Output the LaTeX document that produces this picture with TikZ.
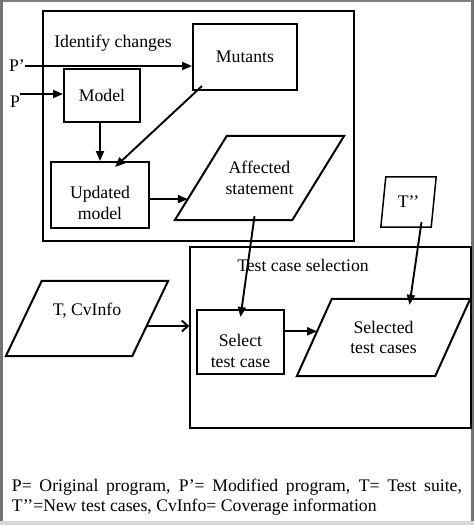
\documentclass[tikz,border=0pt]{standalone}
\usepackage{fontspec}
\setmainfont{Liberation Serif}
\usetikzlibrary{calc,arrows.meta}
\def\paraline[#1](#2)(#3){\draw[#1] (#2.south west) -- ([xshift=#3]#2.north west) -- (#2.north east) -- ([xshift=-#3]#2.south east) -- cycle;}

\begin{document}
\begin{tikzpicture}[x=1pt,y=-1pt,
		every node/.style={font=\fontsize{17.7}{20.5}\selectfont},
		box/.style={draw,rectangle,line width=2pt,inner sep=0pt,align=center},
		para/.style={rectangle,inner sep=0pt,align=center},
		arr/.style={line width=1.9pt,-{Triangle[length=10pt,width=8pt]}},
		openarr/.style={line width=1.9pt,-{Straight Barb[length=6pt,width=11pt]}}]
			%%%%% START %%%%%
			\useasboundingbox (0,0) rectangle (474,525);
			\fill[black!15] (0,521) rectangle (474,525);
			\draw[black!50, line width=1.5pt] (0,0.75) -- (474,0.75);
			\draw[black!55, line width=3pt] (1.5,0) -- (1.5,521);
			\draw[black!55, line width=3pt] (472.5,0) -- (472.5,521);
			
			\node[box, line width=1.6pt, minimum width=311, minimum height=230] (idc) at (198.5,126) {};
			\node (idclbl) at (113,43) {Identify changes};
			
			\node[box, line width=1.6pt, minimum width=281, minimum height=181] (tsel) at (330.5,337.5) {};
			\node (tsellbl) at (303,265) {Test case selection};
			
			\node[box, minimum width=104, minimum height=66] (mut) at (245,57) {Mutants};
			\node[box, minimum width=76, minimum height=53] (model) at (102,95.5) {Model};
			\node[box, minimum width=98, minimum height=66, label={[align=center,yshift=-8]center:Updated\\model}] (upd) at (100,195) {};
			\node[para, minimum width=169, minimum height=84] (aff) at (259.5,178) {Affected\\statement};
			\paraline[line width=2pt](aff)(52);
			
			\node[para, minimum width=55, minimum height=50] (tpp) at (408.5,202) {T’{}’};
			\paraline[line width=1.5pt](tpp)(5);
			\node[para, minimum width=162, minimum height=75, label={[yshift=7.5]center:T, CvInfo}] (tcv) at (87,318.5) {};
			\paraline[line width=2pt](tcv)(36);
			\node[box, minimum width=87, minimum height=64, label={[align=center,yshift=-9]center:Select\\test case}] (sel) at (240.5,342) {};
			\node[para, minimum width=173, minimum height=77] (selc) at (383.5,337.5) {Selected\\test cases};
			\paraline[line width=2pt](selc)(35);
			
			\node[inner sep=0pt] (pp) at (17,66) {P’};
			\node[inner sep=0pt] (p) at (15,102) {P};
			
			\draw[arr] (pp.east) -- (pp.east -| mut.west);
			\coordinate (pin) at ([yshift=8]p.east);
			\draw[arr] (pin) -- (pin -| model.west);
			\draw[arr] (upd.north |- model.south) -- (upd.north);
			\draw[arr] ([xshift=10,yshift=5]mut.south west) -- ([xshift=15,yshift=-6]upd.north);
			\coordinate (affin) at ($(aff.south west)!0.25!([xshift=52]aff.north west)$);
			\draw[arr] (upd.east |- affin) -- (affin);
			
			\draw[arr] ([xshift=-5,yshift=4]aff.south) -- ([yshift=-8]sel.north);
			\draw[arr] ([xshift=13,yshift=5]tpp.south) -- ([xshift=26,yshift=-6]selc.north);
			\coordinate (tcvout) at ($([xshift=-36]tcv.south east)!0.4!(tcv.north east)$);
			\draw[openarr] (tcvout) -- (tcvout -| tsel.west);
			\coordinate (selcin) at ($(selc.south west)!0.58!([xshift=35]selc.north west)$);
			\draw[arr] (sel.east |- selcin) -- (selcin);
			
			\node[text width=450pt, align=justify, inner sep=0pt] (legend) at (237,497) {P= Original program, P’= Modified program, T= Test suite, T’{}’=New test cases, CvInfo= Coverage information};
			%%%%% END %%%%%
		\end{tikzpicture}
\end{document}
